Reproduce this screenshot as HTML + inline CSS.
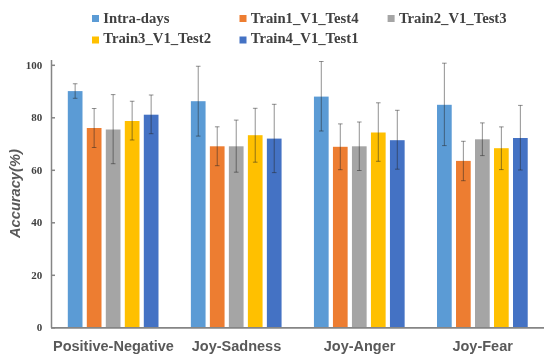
<!DOCTYPE html>
<html><head><meta charset="utf-8"><style>
html,body{margin:0;padding:0;background:#fff;width:550px;height:360px;overflow:hidden}
svg{display:block;filter:blur(0.5px)}
.yl{font-family:"Liberation Serif",serif;font-weight:bold;font-size:11px;fill:#404040}
.lg{font-family:"Liberation Serif",serif;font-weight:bold;font-size:14.7px;fill:#404040}
.xl{font-family:"Liberation Sans",sans-serif;font-weight:bold;font-size:14.5px;fill:#595959}
.yt{font-family:"Liberation Sans",sans-serif;font-weight:bold;font-style:italic;font-size:14.67px;fill:#595959}
</style></head><body>
<svg width="550" height="360" viewBox="0 0 550 360">
<rect width="550" height="360" fill="#fff"/>
<rect x="67.80" y="91.10" width="14.7" height="236.70" fill="#5B9BD5"/>
<rect x="86.80" y="128.00" width="14.7" height="199.80" fill="#ED7D31"/>
<rect x="105.80" y="129.50" width="14.7" height="198.30" fill="#A5A5A5"/>
<rect x="124.80" y="121.00" width="14.7" height="206.80" fill="#FFC000"/>
<rect x="143.80" y="114.70" width="14.7" height="213.10" fill="#4472C4"/>
<rect x="190.87" y="101.20" width="14.7" height="226.60" fill="#5B9BD5"/>
<rect x="209.87" y="146.30" width="14.7" height="181.50" fill="#ED7D31"/>
<rect x="228.87" y="146.30" width="14.7" height="181.50" fill="#A5A5A5"/>
<rect x="247.87" y="135.20" width="14.7" height="192.60" fill="#FFC000"/>
<rect x="266.87" y="138.60" width="14.7" height="189.20" fill="#4472C4"/>
<rect x="313.94" y="96.60" width="14.7" height="231.20" fill="#5B9BD5"/>
<rect x="332.94" y="146.80" width="14.7" height="181.00" fill="#ED7D31"/>
<rect x="351.94" y="146.30" width="14.7" height="181.50" fill="#A5A5A5"/>
<rect x="370.94" y="132.50" width="14.7" height="195.30" fill="#FFC000"/>
<rect x="389.94" y="140.20" width="14.7" height="187.60" fill="#4472C4"/>
<rect x="437.01" y="104.80" width="14.7" height="223.00" fill="#5B9BD5"/>
<rect x="456.01" y="160.90" width="14.7" height="166.90" fill="#ED7D31"/>
<rect x="475.01" y="139.30" width="14.7" height="188.50" fill="#A5A5A5"/>
<rect x="494.01" y="148.20" width="14.7" height="179.60" fill="#FFC000"/>
<rect x="513.01" y="138.00" width="14.7" height="189.80" fill="#4472C4"/>
<path d="M75.15 83.75V98.30M72.85 83.75H77.45M72.85 98.30H77.45" stroke="#262626" stroke-opacity="0.5" stroke-width="1" fill="none"/>
<path d="M94.15 108.50V147.50M91.85 108.50H96.45M91.85 147.50H96.45" stroke="#262626" stroke-opacity="0.5" stroke-width="1" fill="none"/>
<path d="M113.15 94.60V163.70M110.85 94.60H115.45M110.85 163.70H115.45" stroke="#262626" stroke-opacity="0.5" stroke-width="1" fill="none"/>
<path d="M132.15 101.25V140.00M129.85 101.25H134.45M129.85 140.00H134.45" stroke="#262626" stroke-opacity="0.5" stroke-width="1" fill="none"/>
<path d="M151.15 95.00V133.70M148.85 95.00H153.45M148.85 133.70H153.45" stroke="#262626" stroke-opacity="0.5" stroke-width="1" fill="none"/>
<path d="M198.22 66.25V136.10M195.92 66.25H200.52M195.92 136.10H200.52" stroke="#262626" stroke-opacity="0.5" stroke-width="1" fill="none"/>
<path d="M217.22 126.80V165.70M214.92 126.80H219.52M214.92 165.70H219.52" stroke="#262626" stroke-opacity="0.5" stroke-width="1" fill="none"/>
<path d="M236.22 120.10V172.20M233.92 120.10H238.52M233.92 172.20H238.52" stroke="#262626" stroke-opacity="0.5" stroke-width="1" fill="none"/>
<path d="M255.22 108.30V162.20M252.92 108.30H257.52M252.92 162.20H257.52" stroke="#262626" stroke-opacity="0.5" stroke-width="1" fill="none"/>
<path d="M274.22 104.30V172.60M271.92 104.30H276.52M271.92 172.60H276.52" stroke="#262626" stroke-opacity="0.5" stroke-width="1" fill="none"/>
<path d="M321.29 61.50V131.00M318.99 61.50H323.59M318.99 131.00H323.59" stroke="#262626" stroke-opacity="0.5" stroke-width="1" fill="none"/>
<path d="M340.29 123.90V169.70M337.99 123.90H342.59M337.99 169.70H342.59" stroke="#262626" stroke-opacity="0.5" stroke-width="1" fill="none"/>
<path d="M359.29 122.00V170.50M356.99 122.00H361.59M356.99 170.50H361.59" stroke="#262626" stroke-opacity="0.5" stroke-width="1" fill="none"/>
<path d="M378.29 102.80V161.30M375.99 102.80H380.59M375.99 161.30H380.59" stroke="#262626" stroke-opacity="0.5" stroke-width="1" fill="none"/>
<path d="M397.29 110.30V169.20M394.99 110.30H399.59M394.99 169.20H399.59" stroke="#262626" stroke-opacity="0.5" stroke-width="1" fill="none"/>
<path d="M444.36 63.20V145.60M442.06 63.20H446.66M442.06 145.60H446.66" stroke="#262626" stroke-opacity="0.5" stroke-width="1" fill="none"/>
<path d="M463.36 141.30V180.70M461.06 141.30H465.66M461.06 180.70H465.66" stroke="#262626" stroke-opacity="0.5" stroke-width="1" fill="none"/>
<path d="M482.36 122.90V155.60M480.06 122.90H484.66M480.06 155.60H484.66" stroke="#262626" stroke-opacity="0.5" stroke-width="1" fill="none"/>
<path d="M501.36 126.90V169.60M499.06 126.90H503.66M499.06 169.60H503.66" stroke="#262626" stroke-opacity="0.5" stroke-width="1" fill="none"/>
<path d="M520.36 105.40V170.00M518.06 105.40H522.66M518.06 170.00H522.66" stroke="#262626" stroke-opacity="0.5" stroke-width="1" fill="none"/>
<path d="M51.5 60V327.8" stroke="#858585" stroke-width="1.5" fill="none"/>
<path d="M51.0 327.8H544" stroke="#858585" stroke-width="1.8" fill="none"/>
<path d="M51.5 327.80H55.0" stroke="#858585" stroke-width="1.5" fill="none"/>
<text x="42.3" y="331.30" text-anchor="end" class="yl">0</text>
<path d="M51.5 275.30H55.0" stroke="#858585" stroke-width="1.5" fill="none"/>
<text x="42.3" y="278.80" text-anchor="end" class="yl">20</text>
<path d="M51.5 222.80H55.0" stroke="#858585" stroke-width="1.5" fill="none"/>
<text x="42.3" y="226.30" text-anchor="end" class="yl">40</text>
<path d="M51.5 170.30H55.0" stroke="#858585" stroke-width="1.5" fill="none"/>
<text x="42.3" y="173.80" text-anchor="end" class="yl">60</text>
<path d="M51.5 117.80H55.0" stroke="#858585" stroke-width="1.5" fill="none"/>
<text x="42.3" y="121.30" text-anchor="end" class="yl">80</text>
<path d="M51.5 65.30H55.0" stroke="#858585" stroke-width="1.5" fill="none"/>
<text x="42.3" y="68.80" text-anchor="end" class="yl">100</text>
<rect x="92" y="15" width="7" height="7" fill="#5B9BD5"/>
<text x="103.3" y="22.8" class="lg">Intra-days</text>
<rect x="239.5" y="15" width="7" height="7" fill="#ED7D31"/>
<text x="250.8" y="22.8" class="lg">Train1_V1_Test4</text>
<rect x="387.6" y="15" width="7" height="7" fill="#A5A5A5"/>
<text x="398.90000000000003" y="22.8" class="lg">Train2_V1_Test3</text>
<rect x="92" y="36.5" width="7" height="7" fill="#FFC000"/>
<text x="103.3" y="42.8" class="lg">Train3_V1_Test2</text>
<rect x="239.5" y="36.5" width="7" height="7" fill="#4472C4"/>
<text x="250.8" y="42.8" class="lg">Train4_V1_Test1</text>
<text x="113.45" y="350.6" text-anchor="middle" class="xl">Positive-Negative</text>
<text x="236.52" y="350.6" text-anchor="middle" class="xl">Joy-Sadness</text>
<text x="359.59" y="350.6" text-anchor="middle" class="xl">Joy-Anger</text>
<text x="482.66" y="350.6" text-anchor="middle" class="xl">Joy-Fear</text>
<text transform="translate(20.3 193.6) rotate(-90)" text-anchor="middle" class="yt">Accuracy(%)</text>
</svg>
</body></html>
